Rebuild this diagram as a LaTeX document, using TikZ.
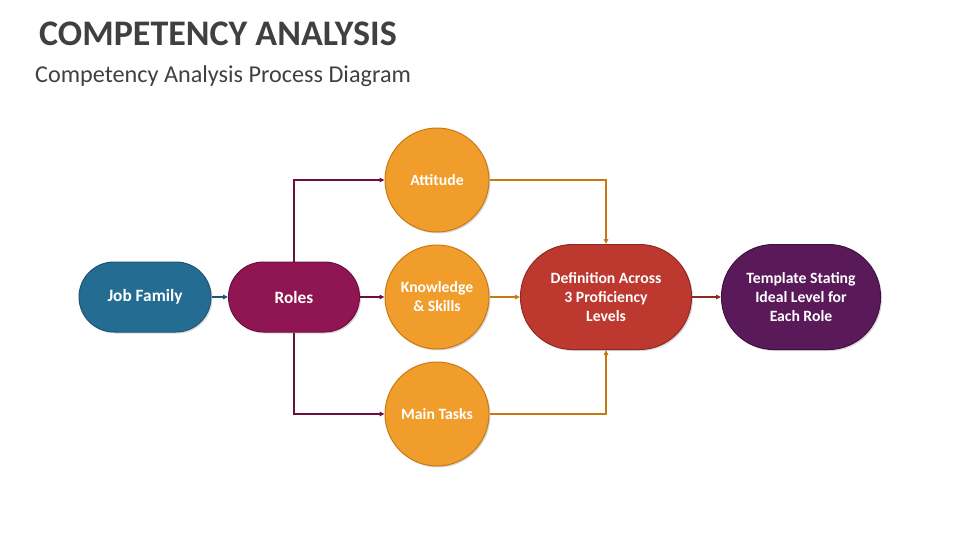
\documentclass[tikz,border=0pt]{standalone}
\usepackage{fontspec}
\setmainfont{Carlito}
\usetikzlibrary{shadows,arrows.meta}
\definecolor{txtgray}{HTML}{404040}
\definecolor{cblue}{HTML}{256C92}
\definecolor{cblueb}{HTML}{1D5573}
\definecolor{cmag}{HTML}{8F1652}
\definecolor{cmagb}{HTML}{6E0F3E}
\definecolor{corange}{HTML}{F19D2B}
\definecolor{corangeb}{HTML}{C57A14}
\definecolor{cred}{HTML}{BD3930}
\definecolor{credb}{HTML}{8F2A23}
\definecolor{cpurple}{HTML}{5A1A5A}
\definecolor{cpurpleb}{HTML}{401040}
\tikzset{
  shad/.style={drop shadow={opacity=0.3,shadow xshift=1.5pt,shadow yshift=-1.5pt}},
  pill/.style={shad,rounded corners=#1,line width=1pt,text=white,font=\bfseries\fontsize{17.3}{21}\selectfont,align=center,inner sep=0pt},
  circ/.style={shad,circle,minimum size=104pt,fill=corange,draw=corangeb,line width=1pt,text=white,font=\bfseries\fontsize{15.7}{19}\selectfont,align=center,inner sep=0pt},
  conn/.style={line width=1.2pt,-{Triangle[length=5pt,width=4.5pt]}},
}
\begin{document}
\begin{tikzpicture}[x=1pt,y=-1pt]
\useasboundingbox (0,0) rectangle (960,540);
\node[anchor=base west,text=txtgray,font=\bfseries\fontsize{36}{40}\selectfont,inner sep=0pt] (title) at (39,46) {COMPETENCY ANALYSIS};
\node[anchor=base west,text=txtgray,font=\fontsize{24.2}{28}\selectfont,inner sep=0pt] (sub) at (35,83) {Competency Analysis Process Diagram};

\node[pill=35pt,fill=cblue,draw=cblueb,minimum width=132pt,minimum height=70pt] (job) at (145,297) {Job Family};
\node[pill=35pt,fill=cmag,draw=cmagb,minimum width=131pt,minimum height=70pt] (roles) at (294,297) {Roles};
\node[circ] (att) at (437,180) {Attitude};
\node[circ] (know) at (437,297) {Knowledge\\\& Skills};
\node[circ] (main) at (437,414) {Main Tasks};
\node[pill=52pt,fill=cred,draw=credb,minimum width=171pt,minimum height=105pt,font=\bfseries\fontsize{15.7}{19}\selectfont] (def) at (606,297) {Definition Across\\3 Proficiency\\Levels};
\node[pill=52pt,fill=cpurple,draw=cpurpleb,minimum width=159pt,minimum height=105pt,font=\bfseries\fontsize{15.7}{19}\selectfont] (tpl) at (801,297) {Template Stating\\Ideal Level for\\Each Role};

\draw[conn,draw=cblueb] (job) -- (roles);
\draw[conn,draw=cmagb] (roles.north) |- (att.west);
\draw[conn,draw=cmagb] (roles) -- (know);
\draw[conn,draw=cmagb] (roles.south) |- (main.west);
\draw[conn,draw=corangeb] (att.east) -| (def.north);
\draw[conn,draw=corangeb] (know) -- (def);
\draw[conn,draw=corangeb] (main.east) -| (def.south);
\draw[conn,draw=credb] (def) -- (tpl);
\end{tikzpicture}
\end{document}
